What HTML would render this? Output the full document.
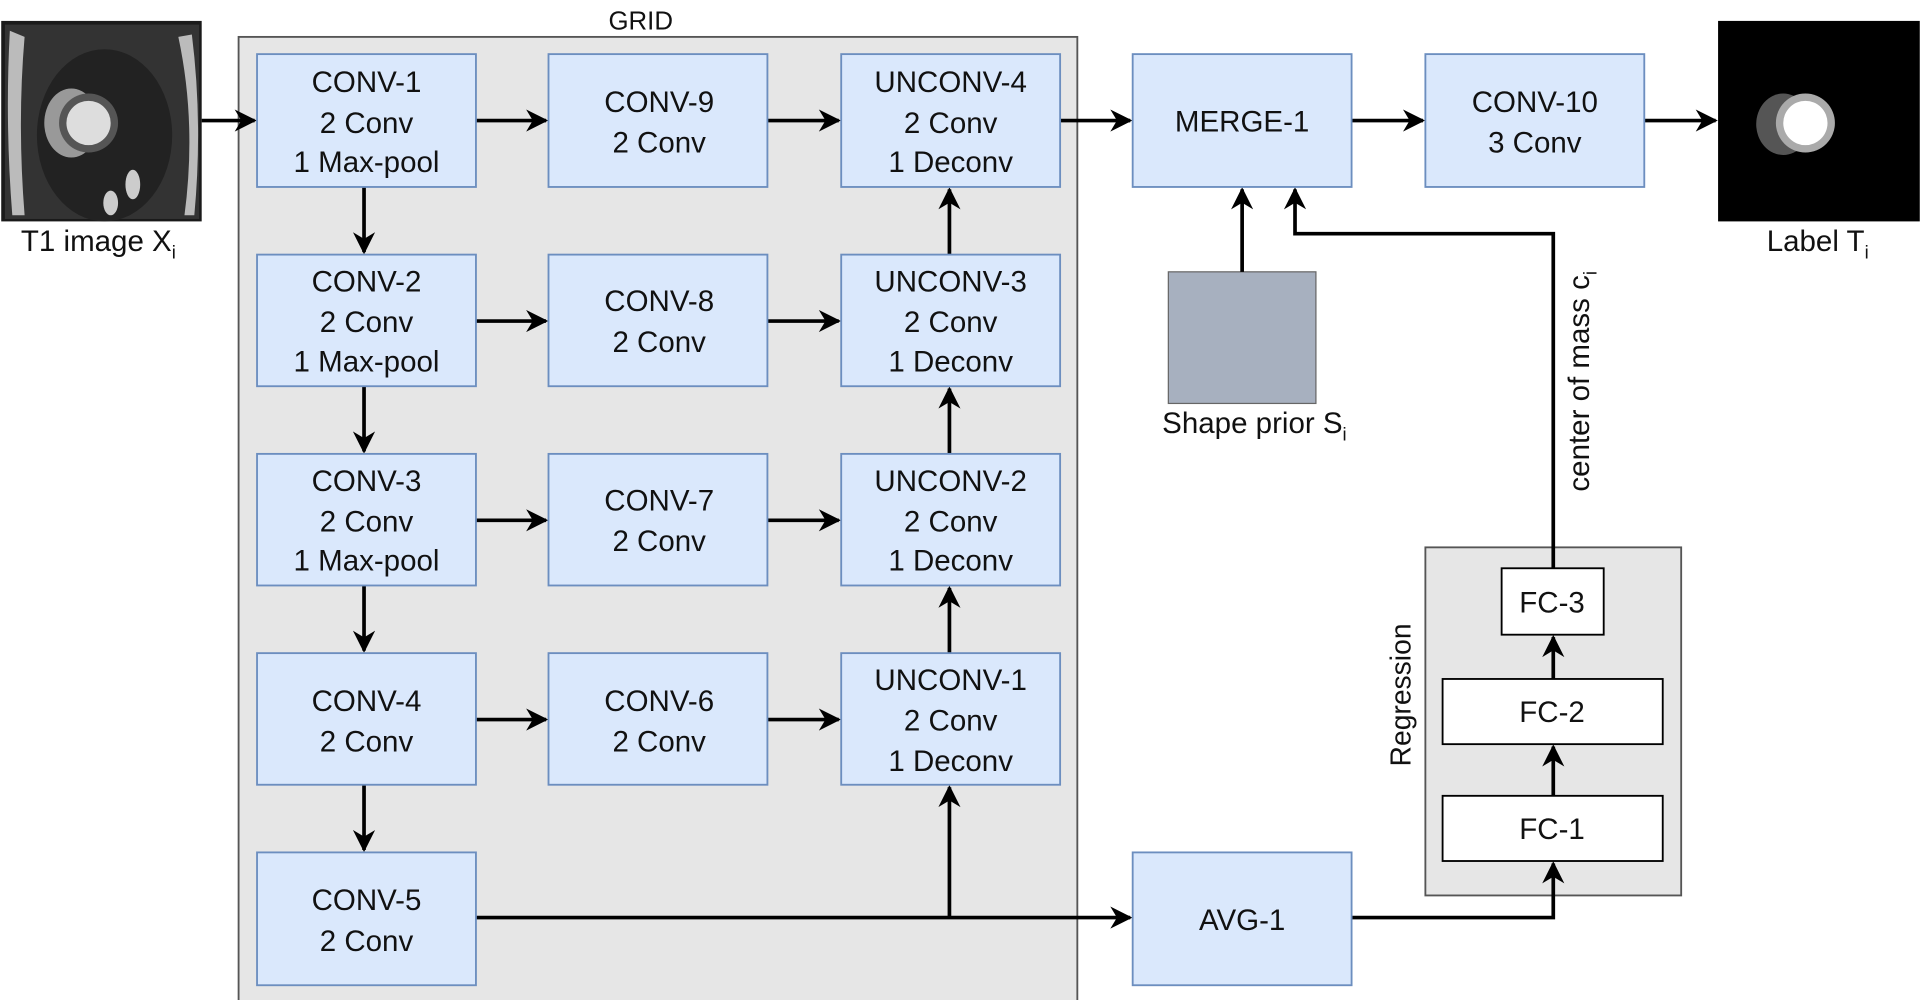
<!DOCTYPE html>
<html><head><meta charset="utf-8"><style>
html,body{margin:0;padding:0;background:#fff;}
svg{display:block;}
text{font-family:"Liberation Sans",sans-serif;fill:#111;}
</style></head><body>
<svg width="1921" height="1000" viewBox="0 0 1562 813" preserveAspectRatio="none" xmlns="http://www.w3.org/2000/svg">
<defs>
<marker id="a" viewBox="0 0 10 10" refX="9" refY="5" markerWidth="6.5" markerHeight="6" orient="auto" markerUnits="strokeWidth"><path d="M0,0 L10,5 L0,10 L3,5z" fill="#000"/></marker>
</defs>
<rect x="194" y="30" width="682" height="784" fill="#e6e6e6" stroke="#555" stroke-width="1.5"/>
<text x="521" y="24" font-size="21" text-anchor="middle">GRID</text>
<rect x="1159" y="445" width="208" height="283" fill="#e6e6e6" stroke="#555" stroke-width="1.5"/>
<text transform="translate(1147,565) rotate(-90)" font-size="23" text-anchor="middle">Regression</text>
<rect x="1" y="17" width="163" height="163" fill="#1a1a1a"/>
<rect x="4" y="20" width="158" height="158" fill="#333"/>
<ellipse cx="85" cy="110" rx="55" ry="70" fill="#222"/>
<ellipse cx="58" cy="100" rx="22" ry="28" fill="#999"/>
<circle cx="72" cy="100" r="24" fill="#555"/>
<circle cx="72" cy="100" r="18" fill="#ddd"/>
<path d="M8,25 Q4,100 10,175 L20,175 Q14,100 20,30z" fill="#bbb"/>
<path d="M145,30 Q160,100 150,175 L158,175 Q165,100 156,28z" fill="#bbb"/>
<ellipse cx="108" cy="150" rx="6" ry="12" fill="#ccc"/>
<ellipse cx="90" cy="165" rx="6" ry="10" fill="#ccc"/>
<rect x="1397" y="17" width="164" height="163" fill="#000"/>
<ellipse cx="1450" cy="101" rx="22" ry="25" fill="#555"/>
<circle cx="1468" cy="100" r="24" fill="#aaa"/>
<circle cx="1468" cy="100" r="18" fill="#fff"/>
<text x="80" y="204" font-size="24" text-anchor="middle">T1 image X<tspan font-size="15" dy="6">i</tspan></text>
<text x="1478" y="204" font-size="24" text-anchor="middle">Label T<tspan font-size="15" dy="6">i</tspan></text>
<rect x="950" y="221" width="120" height="107" fill="#a7b0bf" stroke="#666" stroke-width="1"/>
<text x="1020" y="352" font-size="24" text-anchor="middle">Shape prior S<tspan font-size="15" dy="6">i</tspan></text>
<g stroke="#000" stroke-width="3" fill="none" marker-end="url(#a)">
<line x1="164" y1="98" x2="207" y2="98"/>
<line x1="387" y1="98" x2="444" y2="98"/>
<line x1="624" y1="98" x2="682" y2="98"/>
<line x1="862" y1="98" x2="919" y2="98"/>
<line x1="1099" y1="98" x2="1157" y2="98"/>
<line x1="1337" y1="98" x2="1395" y2="98"/>
<line x1="387" y1="261" x2="444" y2="261"/>
<line x1="624" y1="261" x2="682" y2="261"/>
<line x1="387" y1="423" x2="444" y2="423"/>
<line x1="624" y1="423" x2="682" y2="423"/>
<line x1="387" y1="585" x2="444" y2="585"/>
<line x1="624" y1="585" x2="682" y2="585"/>
<line x1="296" y1="152" x2="296" y2="205"/>
<line x1="296" y1="314" x2="296" y2="367"/>
<line x1="296" y1="476" x2="296" y2="529"/>
<line x1="296" y1="638" x2="296" y2="691"/>
<line x1="772" y1="207" x2="772" y2="154"/>
<line x1="772" y1="369" x2="772" y2="316"/>
<line x1="772" y1="531" x2="772" y2="478"/>
<line x1="772" y1="746" x2="772" y2="640"/>
<line x1="387" y1="746" x2="919" y2="746"/>
<polyline points="1099,746 1263,746 1263,702"/>
<line x1="1263" y1="647" x2="1263" y2="607"/>
<line x1="1263" y1="552" x2="1263" y2="518"/>
<polyline points="1263,462 1263,190 1053,190 1053,154"/>
<line x1="1010" y1="221" x2="1010" y2="154"/>
</g>
<text transform="translate(1292,310) rotate(-90)" font-size="24" text-anchor="middle">center of mass c<tspan font-size="15" dy="6">i</tspan></text>
<g fill="#dae8fc" stroke="#6c8ebf" stroke-width="1.5">
<rect x="209" y="44" width="178" height="108"/><rect x="446" y="44" width="178" height="108"/><rect x="684" y="44" width="178" height="108"/>
<rect x="209" y="207" width="178" height="107"/><rect x="446" y="207" width="178" height="107"/><rect x="684" y="207" width="178" height="107"/>
<rect x="209" y="369" width="178" height="107"/><rect x="446" y="369" width="178" height="107"/><rect x="684" y="369" width="178" height="107"/>
<rect x="209" y="531" width="178" height="107"/><rect x="446" y="531" width="178" height="107"/><rect x="684" y="531" width="178" height="107"/>
<rect x="209" y="693" width="178" height="108"/>
<rect x="921" y="44" width="178" height="108"/><rect x="1159" y="44" width="178" height="108"/>
<rect x="921" y="693" width="178" height="108"/>
</g>
<g fill="#fff" stroke="#000" stroke-width="1.5">
<rect x="1221" y="462" width="83" height="54"/>
<rect x="1173" y="552" width="179" height="53"/>
<rect x="1173" y="647" width="179" height="53"/>
</g>
<g font-size="24" text-anchor="middle">
<text x="298" y="75">CONV-1</text><text x="298" y="108">2 Conv</text><text x="298" y="140">1 Max-pool</text>
<text x="536" y="91">CONV-9</text><text x="536" y="124">2 Conv</text>
<text x="773" y="75">UNCONV-4</text><text x="773" y="108">2 Conv</text><text x="773" y="140">1 Deconv</text>
<text x="298" y="237">CONV-2</text><text x="298" y="270">2 Conv</text><text x="298" y="302">1 Max-pool</text>
<text x="536" y="253">CONV-8</text><text x="536" y="286">2 Conv</text>
<text x="773" y="237">UNCONV-3</text><text x="773" y="270">2 Conv</text><text x="773" y="302">1 Deconv</text>
<text x="298" y="399">CONV-3</text><text x="298" y="432">2 Conv</text><text x="298" y="464">1 Max-pool</text>
<text x="536" y="415">CONV-7</text><text x="536" y="448">2 Conv</text>
<text x="773" y="399">UNCONV-2</text><text x="773" y="432">2 Conv</text><text x="773" y="464">1 Deconv</text>
<text x="298" y="578">CONV-4</text><text x="298" y="611">2 Conv</text>
<text x="536" y="578">CONV-6</text><text x="536" y="611">2 Conv</text>
<text x="773" y="561">UNCONV-1</text><text x="773" y="594">2 Conv</text><text x="773" y="627">1 Deconv</text>
<text x="298" y="740">CONV-5</text><text x="298" y="773">2 Conv</text>
<text x="1010" y="107">MERGE-1</text>
<text x="1248" y="91">CONV-10</text><text x="1248" y="124">3 Conv</text>
<text x="1010" y="756">AVG-1</text>
<text x="1262" y="498">FC-3</text>
<text x="1262" y="587">FC-2</text>
<text x="1262" y="682">FC-1</text>
</g>
</svg>
</body></html>
